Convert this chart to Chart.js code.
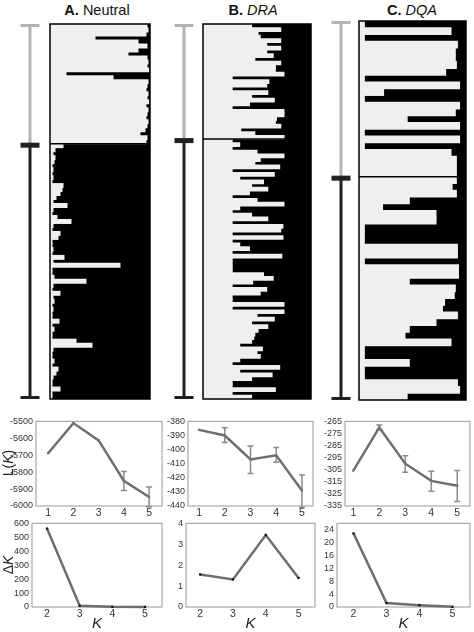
<!DOCTYPE html>
<html>
<head>
<meta charset="utf-8">
<script src="https://cdn.jsdelivr.net/npm/chart.js@4.4.1/dist/chart.umd.min.js"></script>
<style>
  html, body { margin: 0; padding: 0; background: #fff; }
  body { width: 474px; height: 632px; position: relative; overflow: hidden; font-family: "Liberation Sans", Arial, sans-serif; }
  .box { position: absolute; }
  .title { position: absolute; top: 1px; width: 160px; text-align: center; font-size: 14.5px; line-height: 18px; color: #111; }
  .ylab { position: absolute; width: 60px; height: 16px; font-size: 14px; line-height: 16px; text-align: center; color: #222; transform: rotate(-90deg); }
</style>
</head>
<body>
<div class="title" style="left:17px"><b>A.</b> Neutral</div>
<div class="title" style="left:173px"><b>B.</b> <i>DRA</i></div>
<div class="title" style="left:332px"><b>C.</b> <i>DQA</i></div>

<div class="box" style="left:15px;top:18px;width:140px;height:386px"><canvas id="barA"></canvas></div>
<div class="box" style="left:170px;top:18px;width:146px;height:386px"><canvas id="barB"></canvas></div>
<div class="box" style="left:325px;top:15px;width:146px;height:390px"><canvas id="barC"></canvas></div>

<div class="box" style="left:6px;top:413px;width:160px;height:107px"><canvas id="lk1"></canvas></div>
<div class="box" style="left:160px;top:413px;width:157px;height:107px"><canvas id="lk2"></canvas></div>
<div class="box" style="left:315px;top:413px;width:159px;height:107px"><canvas id="lk3"></canvas></div>

<div class="box" style="left:6px;top:515px;width:160px;height:118px"><canvas id="dk1"></canvas></div>
<div class="box" style="left:166px;top:515px;width:153px;height:118px"><canvas id="dk2"></canvas></div>
<div class="box" style="left:315px;top:515px;width:159px;height:118px"><canvas id="dk3"></canvas></div>

<div class="ylab" style="left:-22px;top:455px">L(<i>K</i>)</div>
<div class="ylab" style="left:-22px;top:557px">&Delta;<i>K</i></div>

<script>
// membership in the light cluster, one value per individual (top to bottom)
const neutralQ = [
  0.97, 0.98, 0.96, 0.45, 0.88, 0.97, 0.88, 0.78, 0.97, 0.98,
  0.97, 0.99, 0.16, 0.63, 0.98, 0.97, 0.96, 0.98, 0.97, 0.99,
  0.96, 0.98, 0.97, 0.96, 0.98, 0.97, 0.95, 0.90, 0.97, 0.96,
  0.13, 0.05, 0.03, 0.05, 0.04, 0.02, 0.03, 0.02, 0.03, 0.02,
  0.13, 0.12, 0.10, 0.06, 0.03, 0.17,
  0.03, 0.02, 0.07, 0.21, 0.03, 0.02, 0.10, 0.08, 0.02, 0.02,
  0.03, 0.02, 0.14, 0.03, 0.70, 0.02, 0.02, 0.04, 0.36, 0.03,
  0.02, 0.10, 0.03, 0.04, 0.02, 0.03, 0.02, 0.02, 0.09, 0.02,
  0.04, 0.02, 0.02, 0.26, 0.42, 0.03, 0.02, 0.02, 0.04, 0.02,
  0.08, 0.06, 0.03, 0.02, 0.02, 0.10, 0.02, 0.02
];
const neutralSplit = 30;

const draQ = [
  0.45, 0.72, 0.51, 0.53, 0.72, 0.59, 0.72, 0.59, 0.65, 0.48,
  0.72, 0.67, 0.67, 0.75, 0.27, 0.61, 0.59, 0.27, 0.60, 0.45,
  0.66, 0.43, 0.27, 0.75, 0.75, 0.68, 0.67, 0.72, 0.35, 0.48, 0.75,
  0.27, 0.34, 0.27, 0.50, 0.75, 0.53, 0.48, 0.71, 0.27, 0.66,
  0.34, 0.56, 0.45, 0.60, 0.43, 0.27, 0.50, 0.75, 0.34, 0.27,
  0.45, 0.60, 0.27, 0.74, 0.72, 0.27, 0.74, 0.27, 0.34, 0.43,
  0.27, 0.73, 0.27, 0.27, 0.27, 0.27, 0.56, 0.65, 0.46, 0.27,
  0.59, 0.53, 0.27, 0.27, 0.75, 0.27, 0.75, 0.50, 0.66, 0.45,
  0.60, 0.51, 0.48, 0.47, 0.45, 0.34, 0.55, 0.50, 0.53, 0.34,
  0.27, 0.71, 0.34, 0.64, 0.45, 0.27, 0.27, 0.67, 0.27, 0.45
];
const draSplit = 31;

const dqaQ = [
  0.05, 0.86, 0.05, 0.92, 0.90, 0.90, 0.91, 0.81, 0.05, 0.94,
  0.23, 0.05, 0.94, 0.90, 0.45, 0.94, 0.05, 0.94, 0.05, 0.86,
  0.91, 0.91, 0.91,
  0.91, 0.87, 0.91, 0.47, 0.22, 0.72, 0.72, 0.05, 0.05, 0.05,
  0.92, 0.92, 0.05, 0.93, 0.93, 0.47, 0.90, 0.89, 0.80, 0.78,
  0.92, 0.72, 0.47, 0.43, 0.86, 0.05, 0.05, 0.47, 0.05, 0.05,
  0.92, 0.94, 0.45
];
const dqaSplit = 23;

// mean L(K) with error bar ends
const kAll = [1, 2, 3, 4, 5];
const lkNeutral = [-5688, -5510, -5612, -5851, -5947];
const lkNeutralLo = [null, null, null, -5908, -6004];
const lkNeutralHi = [null, null, null, -5796, -5888];
const lkDra = [-386, -390, -407, -404, -429];
const lkDraLo = [null, -395, -417, -409, -441];
const lkDraHi = [null, -384.5, -397.5, -398.5, -418];
const lkDqa = [-305.7, -270, -300, -314.2, -318.2];
const lkDqaLo = [null, -272, -307, -322.8, -331.3];
const lkDqaHi = [null, -268, -293.5, -306.3, -305.7];

// delta K
const kDelta = [2, 3, 4, 5];
const dkNeutral = [563, 9, 1, 0.5];
const dkDra = [1.56, 1.32, 3.44, 1.39];
const dkDqa = [22.8, 1.25, 0.55, 0.05];

// tick labels
const lkNeutralTicks = [-6000, -5900, -5800, -5700, -5600, -5500];
const lkDraTicks = [-440, -430, -420, -410, -400, -390, -380];
const lkDqaTicks = [-335, -325, -315, -305, -295, -285, -275, -265];
const dkNeutralTicks = [0, 100, 200, 300, 400, 500, 600];
const dkDraTicks = [0, 1, 2, 3, 4];
const dkDqaTicks = [0, 4, 8, 12, 16, 20, 24];

Chart.defaults.font.family = '"Liberation Sans", Arial, sans-serif';
Chart.defaults.animation = false;

const structurePlugin = {
  id: 'structure',
  afterDraw(chart, args, opts) {
    const {ctx, chartArea: a, scales: {y}} = chart;
    const n = chart.data.labels.length;
    const rowH = (a.bottom - a.top) / n;
    const divY = y.getPixelForValue(opts.split - 1) + rowH / 2;
    ctx.save();
    ctx.strokeStyle = '#000';
    ctx.lineWidth = 1.5;
    ctx.strokeRect(a.left, a.top, a.right - a.left, a.bottom - a.top);
    ctx.beginPath();
    ctx.moveTo(a.left, divY);
    ctx.lineTo(a.right, divY);
    ctx.stroke();
    // bracket for the two groups
    const bx = a.left - opts.gap;
    ctx.fillStyle = '#b3b3b3';
    ctx.fillRect(bx - 1.5, a.top, 3, divY - a.top);
    ctx.fillRect(bx - 9.5, a.top, 19, 3);
    ctx.fillStyle = '#231f20';
    ctx.fillRect(bx - 1.5, divY, 3, a.bottom - divY);
    ctx.fillRect(bx - 9.5, divY - 1, 19, 5);
    ctx.fillRect(bx - 9.5, a.bottom - 3, 19, 3);
    ctx.restore();
  }
};

function structureChart(id, q, split, padLeft, gap) {
  new Chart(document.getElementById(id), {
    type: 'bar',
    data: {
      labels: q.map((v, i) => i + 1),
      datasets: [
        {data: q, backgroundColor: '#efefef'},
        {data: q.map(v => 1 - v), backgroundColor: '#000'}
      ]
    },
    options: {
      indexAxis: 'y',
      responsive: true,
      maintainAspectRatio: false,
      datasets: {bar: {barPercentage: 1, categoryPercentage: 1, borderWidth: 0, inflateAmount: 0.5}},
      layout: {padding: {left: padLeft, right: 5, top: 6, bottom: 5}},
      scales: {
        x: {display: false, stacked: true, min: 0, max: 1},
        y: {display: false, stacked: true}
      },
      plugins: {
        legend: {display: false},
        tooltip: {enabled: false},
        structure: {split: split, gap: gap}
      }
    },
    plugins: [structurePlugin]
  });
}

structureChart('barA', neutralQ, neutralSplit, 35, 20);
structureChart('barB', draQ, draSplit, 33, 19);
structureChart('barC', dqaQ, dqaSplit, 34, 18);

const boxPlugin = {
  id: 'plotBox',
  beforeDatasetsDraw(chart, args, opts) {
    const {ctx, chartArea: a, scales: {x, y}} = chart;
    ctx.save();
    ctx.strokeStyle = '#a8a8a8';
    ctx.lineWidth = 1.2;
    ctx.strokeRect(a.left, a.top, a.right - a.left, a.bottom - a.top);
    if (opts.lo) {
      ctx.strokeStyle = '#8c8c8c';
      ctx.lineWidth = 1.5;
      opts.lo.forEach((lo, i) => {
        if (lo === null) return;
        const px = x.getPixelForValue(opts.k[i]);
        const y1 = y.getPixelForValue(lo);
        const y2 = y.getPixelForValue(opts.hi[i]);
        ctx.beginPath();
        ctx.moveTo(px, y1); ctx.lineTo(px, y2);
        ctx.moveTo(px - 3, y1); ctx.lineTo(px + 3, y1);
        ctx.moveTo(px - 3, y2); ctx.lineTo(px + 3, y2);
        ctx.stroke();
      });
    }
    ctx.restore();
  }
};

function lineChart(id, cfg) {
  new Chart(document.getElementById(id), {
    type: 'line',
    data: {
      datasets: [{
        data: cfg.k.map((k, i) => ({x: k, y: cfg.v[i]})),
        borderColor: '#6e6e6e',
        borderWidth: 2.5,
        pointStyle: 'rect',
        pointRadius: 1.6,
        pointBackgroundColor: cfg.pointColor,
        pointBorderColor: cfg.pointColor,
        pointBorderWidth: 0,
        tension: 0,
        clip: false
      }]
    },
    options: {
      responsive: true,
      maintainAspectRatio: false,
      layout: {padding: {left: 0, right: 4, top: 8, bottom: 0}},
      scales: {
        x: {
          type: 'linear',
          min: cfg.xMin, max: cfg.xMax,
          grid: {display: false, drawTicks: false},
          border: {display: false},
          afterBuildTicks: s => { s.ticks = cfg.k.map(v => ({value: v})); },
          afterFit: s => { s.height = cfg.xH; },
          ticks: {padding: 1, color: '#333', font: {size: 10.5}, maxRotation: 0, autoSkip: false},
          title: cfg.xTitle
            ? {display: true, text: 'K', color: '#222', font: {size: 15, style: 'italic'}, padding: 0}
            : {display: false}
        },
        y: {
          min: cfg.yMin, max: cfg.yMax,
          grid: {display: false, drawTicks: false},
          border: {display: false},
          afterBuildTicks: s => { s.ticks = cfg.yTicks.map(v => ({value: v})); },
          afterFit: s => { s.width = cfg.yW; },
          ticks: {padding: 3, color: '#333', font: {size: 9}, autoSkip: false, callback: v => String(v)}
        }
      },
      plugins: {
        legend: {display: false},
        tooltip: {enabled: false},
        plotBox: {k: cfg.k, lo: cfg.lo, hi: cfg.hi}
      }
    },
    plugins: [boxPlugin]
  });
}

const blue = '#4a7ebb';
lineChart('lk1', {k: kAll, v: lkNeutral, lo: lkNeutralLo, hi: lkNeutralHi, xMin: 0.52, xMax: 5.51,
  yMin: -6000, yMax: -5500, yTicks: lkNeutralTicks, yW: 30, xH: 14, pointColor: blue});
lineChart('lk2', {k: kAll, v: lkDra, lo: lkDraLo, hi: lkDraHi, xMin: 0.57, xMax: 5.43,
  yMin: -440, yMax: -380, yTicks: lkDraTicks, yW: 28, xH: 14, pointColor: blue});
lineChart('lk3', {k: kAll, v: lkDqa, lo: lkDqaLo, hi: lkDqaHi, xMin: 0.68, xMax: 5.49,
  yMin: -335, yMax: -265, yTicks: lkDqaTicks, yW: 30, xH: 14, pointColor: blue});

lineChart('dk1', {k: kDelta, v: dkNeutral, xMin: 1.54, xMax: 5.52,
  yMin: 0, yMax: 600, yTicks: dkNeutralTicks, yW: 26, xH: 26, xTitle: true, pointColor: '#111'});
lineChart('dk2', {k: kDelta, v: dkDra, xMin: 1.57, xMax: 5.5,
  yMin: 0, yMax: 4, yTicks: dkDraTicks, yW: 20, xH: 26, xTitle: true, pointColor: '#111'});
lineChart('dk3', {k: kDelta, v: dkDqa, xMin: 1.5, xMax: 5.53,
  yMin: 0, yMax: 25.9, yTicks: dkDqaTicks, yW: 22, xH: 26, xTitle: true, pointColor: '#111'});
</script>
</body>
</html>
